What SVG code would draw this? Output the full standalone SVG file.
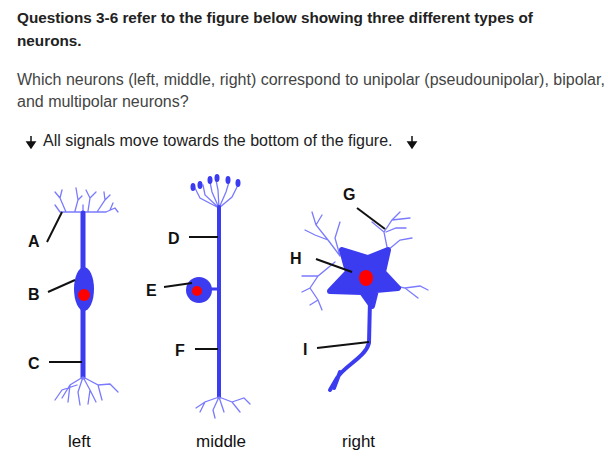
<svg xmlns="http://www.w3.org/2000/svg" width="608" height="459" viewBox="0 0 608 459">
<style>
text{font-family:"Liberation Sans",Arial,sans-serif}
.h{font-size:15.3px;font-weight:bold;fill:#222}
.b{font-size:16px;fill:#444}
.lb{font-size:16px;font-weight:bold;fill:#111}
.cap{font-size:17px;fill:#111}
.d{stroke:#7a7aff;stroke-width:1.3;fill:none;stroke-linecap:round}
.ax{stroke:#3b3bf0;fill:none;stroke-linecap:round}
.ln{stroke:#111;stroke-width:2}
.ar{stroke:#111;stroke-width:1.5;fill:#111}
</style>
<rect width="608" height="459" fill="#fff"/>
<text class="h" x="17" y="23">Questions 3-6 refer to the figure below showing three different types of</text>
<text class="h" x="17" y="46">neurons.</text>
<text class="b" x="17" y="85">Which neurons (left, middle, right) correspond to unipolar (pseudounipolar), bipolar,</text>
<text class="b" x="17" y="107">and multipolar neurons?</text>
<g class="ar"><line x1="31" y1="136" x2="31" y2="144"/><path d="M27 142 L35 142 L31 148 Z"/></g>
<text class="b" x="43" y="146" style="fill:#222">All signals move towards the bottom of the figure.</text>
<g class="ar"><line x1="412" y1="136" x2="412" y2="144"/><path d="M408 142 L416 142 L412 148 Z"/></g>
<g id="left">
<path class="d" d="M83 213 L83 205 M60 212 L106 212 M60 212 L55 205 M66 212 L60 198 L62 190 M60 198 L55 192 M75 211 L78 200 L76 188 M78 200 L82 196 M88 211 L90 198 L86 190 M90 198 L96 192 M97 212 L105 200 L110 195 M105 200 L104 192 M106 212 L115 208 L118 212 M110 210 L113 203"/>
<line class="ax" x1="83" y1="213" x2="83" y2="377" stroke-width="5"/>
<ellipse cx="84" cy="289" rx="10" ry="22" fill="#3b3bf0"/>
<circle cx="84" cy="295" r="6" fill="#f00"/>
<path class="d" d="M83 377 L70 385 L62 398 M70 385 L68 402 M83 377 L78 392 L80 405 M83 377 L90 390 L88 404 M83 377 L98 385 L102 400 M98 385 L110 384 L118 392 M77 385 L62 390 L55 400 M90 390 L96 402"/>
</g>
<g id="middle">
<path class="d" d="M219 208 L200 198 L195 188 M219 208 L205 195 L203 185 M219 208 L212 192 L210 182 M219 208 L218 190 L216 180 M219 208 L226 192 L229 182 M219 208 L232 197 L238 185"/>
<g fill="#3b3bf0"><ellipse cx="193" cy="187" rx="2.5" ry="4"/><ellipse cx="200" cy="185" rx="2.5" ry="4"/><ellipse cx="210" cy="180" rx="2.5" ry="4"/><ellipse cx="217" cy="178" rx="2.5" ry="4"/><ellipse cx="228" cy="180" rx="2.5" ry="4"/><ellipse cx="238" cy="183" rx="2.5" ry="4"/></g>
<line class="ax" x1="219" y1="207" x2="219" y2="397" stroke-width="4"/>
<line class="ax" x1="205" y1="289" x2="219" y2="289" stroke-width="3"/>
<circle cx="199" cy="290" r="13" fill="#3b3bf0"/>
<circle cx="197" cy="291" r="5" fill="#f00"/>
<path class="d" d="M219 397 L205 402 L200 412 M205 402 L196 408 M219 397 L213 410 L215 418 M219 397 L224 412 M219 397 L232 402 L240 412 M232 402 L244 398 L250 404"/>
</g>
<g id="right">
<path class="d" d="M340 256 L328 240 L316 225 L312 212 M328 240 L315 235 L305 230 M316 225 L322 215 M340 256 L335 238 L340 222 M335 262 L318 276 L302 276 M318 276 L310 288 L302 292 M310 288 L318 300 L322 310 M318 300 L310 305 M388 252 L384 232 L372 222 M384 232 L392 220 L400 212 M388 250 L400 240 L412 238 M392 220 L410 218 M386 232 L396 228 L406 228 M392 285 L405 288 L418 298 M405 288 L420 286 L428 290"/>
<path d="M342 250 L368 258 L388 250 L383 272 L398 288 L376 290 L372 306 L362 292 L330 291 L348 272 Z" fill="#3b3bf0" stroke="#3b3bf0" stroke-width="6" stroke-linejoin="round"/>
<ellipse cx="366" cy="278" rx="7" ry="8" fill="#f00"/>
<path class="ax" d="M370 300 L369 343 C365 358 345 365 337 378 L330 390 M340 372 L334 388" stroke-width="4"/>
</g>
<g id="labels">
<text class="lb" x="28" y="247">A</text><line class="ln" x1="47" y1="242" x2="62" y2="212"/>
<text class="lb" x="28" y="300">B</text><line class="ln" x1="48" y1="292" x2="75" y2="280"/>
<text class="lb" x="28" y="369">C</text><line class="ln" x1="49" y1="362" x2="82" y2="362"/>
<text class="lb" x="168" y="244">D</text><line class="ln" x1="189" y1="237" x2="218" y2="237"/>
<text class="lb" x="146" y="296">E</text><line class="ln" x1="164" y1="287" x2="192" y2="283"/>
<text class="lb" x="175" y="356">F</text><line class="ln" x1="195" y1="349" x2="218" y2="349"/>
<text class="lb" x="343" y="200">G</text><line class="ln" x1="357" y1="208" x2="385" y2="229"/>
<text class="lb" x="290" y="264">H</text><line class="ln" x1="316" y1="259" x2="352" y2="272"/>
<text class="lb" x="303" y="355">I</text><line class="ln" x1="317" y1="348" x2="369" y2="342"/>
</g>
<text class="cap" x="68" y="447">left</text>
<text class="cap" x="196" y="447">middle</text>
<text class="cap" x="342" y="447">right</text>
</svg>
